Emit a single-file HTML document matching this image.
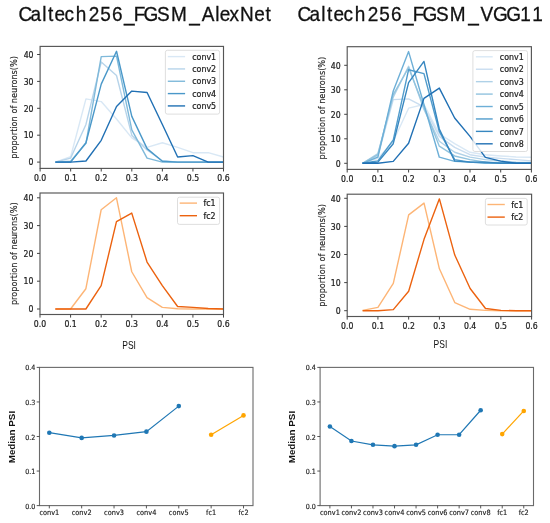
<!DOCTYPE html>
<html><head><meta charset="utf-8"><style>
html,body{margin:0;padding:0;background:#fff;}
svg{display:block;}
text{font-family:"DejaVu Sans", "Liberation Sans", sans-serif;fill:#222;}
.tt{font-family:"Liberation Sans",sans-serif;font-size:20px;fill:#111;stroke:#111;stroke-width:0.3px;}
.tk{font-size:8.6px;font-stretch:condensed;fill:#222;stroke:#222;stroke-width:0.22px;}
.tk2{font-size:7.3px;font-stretch:condensed;fill:#222;stroke:#222;stroke-width:0.15px;}
.tk2y{font-size:7.1px;font-stretch:condensed;fill:#222;stroke:#222;stroke-width:0.15px;}
.yl{font-size:8.2px;fill:#222;stroke:#222;stroke-width:0.15px;}
.xl{font-family:"Liberation Sans",sans-serif;font-size:10.6px;fill:#111;}
.lg{font-size:8.8px;font-stretch:condensed;fill:#222;stroke:#222;stroke-width:0.22px;}
.ml{font-family:"Liberation Sans",sans-serif;font-size:9.4px;font-weight:bold;fill:#111;}
</style></head><body>
<svg width="550" height="523" viewBox="0 0 550 523">
<rect width="550" height="523" fill="#fff"/>
<text x="19.6 32.22 44.56 50.46 57.46 67.89 79.66 93.54 105.46 117.79 130.58 140.73 151.15 165.18 179.88 199.11 212.28 226.56 231.46 241.68 252.56 267.62 279.51" y="21.3" class="tt" transform="scale(0.9500,1)">Caltech256_FGSM_AlexNet</text>
<text x="313.28 325.91 338.25 344.14 351.14 361.58 373.34 387.23 399.14 411.48 424.27 434.42 444.83 458.86 473.56 492.79 505.86 518.89 532.94 547.53 560.27" y="21.3" class="tt" transform="scale(0.9500,1)">Caltech256_FGSM_VGG11</text>
<polyline points="55.38,162.1 70.67,156.72 85.95,98.88 101.23,101.57 116.52,119.06 131.8,137.89 147.08,147.31 162.37,142.73 177.65,147.31 192.93,152.69 208.22,152.69 223.5,156.99" fill="none" stroke="#d9e8f5" stroke-width="1.4" stroke-linejoin="round"/>
<polyline points="55.38,162.1 70.67,158.06 85.95,124.44 101.23,62.03 116.52,75.48 131.8,135.2 147.08,150 162.37,160.75 177.65,162.1 192.93,162.1 208.22,162.1 223.5,162.1" fill="none" stroke="#b7d4ea" stroke-width="1.4" stroke-linejoin="round"/>
<polyline points="55.38,162.1 70.67,161.29 85.95,143.27 101.23,56.65 116.52,56.11 131.8,129.82 147.08,158.06 162.37,162.1 177.65,162.1 192.93,162.1 208.22,162.1 223.5,162.1" fill="none" stroke="#7fb9da" stroke-width="1.4" stroke-linejoin="round"/>
<polyline points="55.38,162.1 70.67,162.1 85.95,142.73 101.23,84.09 116.52,51.27 131.8,116.37 147.08,148.65 162.37,161.29 177.65,162.1 192.93,162.1 208.22,162.1 223.5,162.1" fill="none" stroke="#4a98c9" stroke-width="1.4" stroke-linejoin="round"/>
<polyline points="55.38,162.1 70.67,162.1 85.95,161.02 101.23,140.31 116.52,106.42 131.8,91.08 147.08,92.43 162.37,124.44 177.65,156.99 192.93,155.64 208.22,162.1 223.5,162.1" fill="none" stroke="#2070b4" stroke-width="1.4" stroke-linejoin="round"/>
<rect x="40.1" y="46.4" width="183.4" height="122" fill="none" stroke="#555" stroke-width="1.15"/>
<line x1="40.1" y1="168.4" x2="40.1" y2="171.5" stroke="#444" stroke-width="1"/>
<text x="40.1" y="180.5" text-anchor="middle" class="tk" textLength="12.30" lengthAdjust="spacingAndGlyphs">0.0</text>
<line x1="70.67" y1="168.4" x2="70.67" y2="171.5" stroke="#444" stroke-width="1"/>
<text x="70.67" y="180.5" text-anchor="middle" class="tk" textLength="12.30" lengthAdjust="spacingAndGlyphs">0.1</text>
<line x1="101.23" y1="168.4" x2="101.23" y2="171.5" stroke="#444" stroke-width="1"/>
<text x="101.23" y="180.5" text-anchor="middle" class="tk" textLength="12.30" lengthAdjust="spacingAndGlyphs">0.2</text>
<line x1="131.8" y1="168.4" x2="131.8" y2="171.5" stroke="#444" stroke-width="1"/>
<text x="131.8" y="180.5" text-anchor="middle" class="tk" textLength="12.30" lengthAdjust="spacingAndGlyphs">0.3</text>
<line x1="162.37" y1="168.4" x2="162.37" y2="171.5" stroke="#444" stroke-width="1"/>
<text x="162.37" y="180.5" text-anchor="middle" class="tk" textLength="12.30" lengthAdjust="spacingAndGlyphs">0.4</text>
<line x1="192.93" y1="168.4" x2="192.93" y2="171.5" stroke="#444" stroke-width="1"/>
<text x="192.93" y="180.5" text-anchor="middle" class="tk" textLength="12.30" lengthAdjust="spacingAndGlyphs">0.5</text>
<line x1="223.5" y1="168.4" x2="223.5" y2="171.5" stroke="#444" stroke-width="1"/>
<text x="223.5" y="180.5" text-anchor="middle" class="tk" textLength="12.30" lengthAdjust="spacingAndGlyphs">0.6</text>
<line x1="37.1" y1="162.1" x2="40.1" y2="162.1" stroke="#444" stroke-width="1"/>
<text x="33.5" y="165.3" text-anchor="end" class="tk" textLength="4.92" lengthAdjust="spacingAndGlyphs">0</text>
<line x1="37.1" y1="135.2" x2="40.1" y2="135.2" stroke="#444" stroke-width="1"/>
<text x="33.5" y="138.4" text-anchor="end" class="tk" textLength="9.84" lengthAdjust="spacingAndGlyphs">10</text>
<line x1="37.1" y1="108.3" x2="40.1" y2="108.3" stroke="#444" stroke-width="1"/>
<text x="33.5" y="111.5" text-anchor="end" class="tk" textLength="9.84" lengthAdjust="spacingAndGlyphs">20</text>
<line x1="37.1" y1="81.4" x2="40.1" y2="81.4" stroke="#444" stroke-width="1"/>
<text x="33.5" y="84.6" text-anchor="end" class="tk" textLength="9.84" lengthAdjust="spacingAndGlyphs">30</text>
<line x1="37.1" y1="54.5" x2="40.1" y2="54.5" stroke="#444" stroke-width="1"/>
<text x="33.5" y="57.7" text-anchor="end" class="tk" textLength="9.84" lengthAdjust="spacingAndGlyphs">40</text>
<text transform="translate(17.2,107.4) rotate(-90)" text-anchor="middle" class="yl" textLength="102.7" lengthAdjust="spacingAndGlyphs">proportion of neurons(%)</text>
<rect x="165.4" y="50.3" width="54.2" height="63.8" rx="2" fill="#fff" fill-opacity="0.8" stroke="#d6d6d6" stroke-width="0.8"/>
<line x1="167.8" y1="56.6" x2="185.1" y2="56.6" stroke="#d9e8f5" stroke-width="1.4"/>
<text x="192.2" y="59.8" class="lg" textLength="23.93" lengthAdjust="spacingAndGlyphs">conv1</text>
<line x1="167.8" y1="68.93" x2="185.1" y2="68.93" stroke="#b7d4ea" stroke-width="1.4"/>
<text x="192.2" y="72.13" class="lg" textLength="23.93" lengthAdjust="spacingAndGlyphs">conv2</text>
<line x1="167.8" y1="81.26" x2="185.1" y2="81.26" stroke="#7fb9da" stroke-width="1.4"/>
<text x="192.2" y="84.46" class="lg" textLength="23.93" lengthAdjust="spacingAndGlyphs">conv3</text>
<line x1="167.8" y1="93.59" x2="185.1" y2="93.59" stroke="#4a98c9" stroke-width="1.4"/>
<text x="192.2" y="96.79" class="lg" textLength="23.93" lengthAdjust="spacingAndGlyphs">conv4</text>
<line x1="167.8" y1="105.92" x2="185.1" y2="105.92" stroke="#2070b4" stroke-width="1.4"/>
<text x="192.2" y="109.12" class="lg" textLength="23.93" lengthAdjust="spacingAndGlyphs">conv5</text>
<polyline points="362.55,163.3 377.9,158.4 393.25,141.25 408.6,108.18 423.95,104.5 439.3,133.9 454.65,143.7 470,152.28 485.35,154.73 500.7,155.95 516.05,156.93 531.4,157.18" fill="none" stroke="#d9e8f5" stroke-width="1.4" stroke-linejoin="round"/>
<polyline points="362.55,163.3 377.9,155.95 393.25,99.6 408.6,98.87 423.95,106.95 439.3,136.35 454.65,147.38 470,154.73 485.35,157.18 500.7,158.4 516.05,159.62 531.4,160.85" fill="none" stroke="#c9ddf0" stroke-width="1.4" stroke-linejoin="round"/>
<polyline points="362.55,163.3 377.9,153.5 393.25,97.15 408.6,66.28 423.95,109.4 439.3,141.25 454.65,152.28 470,157.18 485.35,159.62 500.7,160.85 516.05,162.08 531.4,162.56" fill="none" stroke="#afd1e7" stroke-width="1.4" stroke-linejoin="round"/>
<polyline points="362.55,163.3 377.9,154.73 393.25,94.7 408.6,67.75 423.95,106.95 439.3,146.15 454.65,155.95 470,159.62 485.35,162.08 500.7,162.56 516.05,163.3 531.4,163.3" fill="none" stroke="#91c3de" stroke-width="1.4" stroke-linejoin="round"/>
<polyline points="362.55,163.3 377.9,157.18 393.25,91.03 408.6,51.58 423.95,104.5 439.3,157.18 454.65,161.34 470,162.08 485.35,163.3 500.7,163.3 516.05,163.3 531.4,163.3" fill="none" stroke="#6dafd7" stroke-width="1.4" stroke-linejoin="round"/>
<polyline points="362.55,163.3 377.9,160.85 393.25,140.03 408.6,69.71 423.95,73.63 439.3,131.45 454.65,159.62 470,162.08 485.35,162.56 500.7,163.3 516.05,163.3 531.4,163.3" fill="none" stroke="#519ccc" stroke-width="1.4" stroke-linejoin="round"/>
<polyline points="362.55,163.3 377.9,162.08 393.25,143.7 408.6,82.7 423.95,61.38 439.3,129 454.65,160.85 470,162.08 485.35,162.08 500.7,163.3 516.05,163.3 531.4,163.3" fill="none" stroke="#3787c0" stroke-width="1.4" stroke-linejoin="round"/>
<polyline points="362.55,163.3 377.9,163.3 393.25,161.34 408.6,143.21 423.95,98.38 439.3,88.09 454.65,117.98 470,136.35 485.35,157.42 500.7,161.09 516.05,163.3 531.4,163.3" fill="none" stroke="#2070b4" stroke-width="1.4" stroke-linejoin="round"/>
<rect x="347.2" y="46.7" width="184.2" height="122.7" fill="none" stroke="#555" stroke-width="1.15"/>
<line x1="347.2" y1="169.4" x2="347.2" y2="172.5" stroke="#444" stroke-width="1"/>
<text x="347.2" y="181.5" text-anchor="middle" class="tk" textLength="12.30" lengthAdjust="spacingAndGlyphs">0.0</text>
<line x1="377.9" y1="169.4" x2="377.9" y2="172.5" stroke="#444" stroke-width="1"/>
<text x="377.9" y="181.5" text-anchor="middle" class="tk" textLength="12.30" lengthAdjust="spacingAndGlyphs">0.1</text>
<line x1="408.6" y1="169.4" x2="408.6" y2="172.5" stroke="#444" stroke-width="1"/>
<text x="408.6" y="181.5" text-anchor="middle" class="tk" textLength="12.30" lengthAdjust="spacingAndGlyphs">0.2</text>
<line x1="439.3" y1="169.4" x2="439.3" y2="172.5" stroke="#444" stroke-width="1"/>
<text x="439.3" y="181.5" text-anchor="middle" class="tk" textLength="12.30" lengthAdjust="spacingAndGlyphs">0.3</text>
<line x1="470" y1="169.4" x2="470" y2="172.5" stroke="#444" stroke-width="1"/>
<text x="470" y="181.5" text-anchor="middle" class="tk" textLength="12.30" lengthAdjust="spacingAndGlyphs">0.4</text>
<line x1="500.7" y1="169.4" x2="500.7" y2="172.5" stroke="#444" stroke-width="1"/>
<text x="500.7" y="181.5" text-anchor="middle" class="tk" textLength="12.30" lengthAdjust="spacingAndGlyphs">0.5</text>
<line x1="531.4" y1="169.4" x2="531.4" y2="172.5" stroke="#444" stroke-width="1"/>
<text x="531.4" y="181.5" text-anchor="middle" class="tk" textLength="12.30" lengthAdjust="spacingAndGlyphs">0.6</text>
<line x1="344.2" y1="163.3" x2="347.2" y2="163.3" stroke="#444" stroke-width="1"/>
<text x="340.6" y="166.5" text-anchor="end" class="tk" textLength="4.92" lengthAdjust="spacingAndGlyphs">0</text>
<line x1="344.2" y1="138.8" x2="347.2" y2="138.8" stroke="#444" stroke-width="1"/>
<text x="340.6" y="142" text-anchor="end" class="tk" textLength="9.84" lengthAdjust="spacingAndGlyphs">10</text>
<line x1="344.2" y1="114.3" x2="347.2" y2="114.3" stroke="#444" stroke-width="1"/>
<text x="340.6" y="117.5" text-anchor="end" class="tk" textLength="9.84" lengthAdjust="spacingAndGlyphs">20</text>
<line x1="344.2" y1="89.8" x2="347.2" y2="89.8" stroke="#444" stroke-width="1"/>
<text x="340.6" y="93" text-anchor="end" class="tk" textLength="9.84" lengthAdjust="spacingAndGlyphs">30</text>
<line x1="344.2" y1="65.3" x2="347.2" y2="65.3" stroke="#444" stroke-width="1"/>
<text x="340.6" y="68.5" text-anchor="end" class="tk" textLength="9.84" lengthAdjust="spacingAndGlyphs">40</text>
<text transform="translate(324.6,108.05) rotate(-90)" text-anchor="middle" class="yl" textLength="102.7" lengthAdjust="spacingAndGlyphs">proportion of neurons(%)</text>
<rect x="472.9" y="50.6" width="54.6" height="100.9" rx="2" fill="#fff" fill-opacity="0.8" stroke="#d6d6d6" stroke-width="0.8"/>
<line x1="475.9" y1="56.8" x2="492.7" y2="56.8" stroke="#d9e8f5" stroke-width="1.4"/>
<text x="499.8" y="60" class="lg" textLength="23.93" lengthAdjust="spacingAndGlyphs">conv1</text>
<line x1="475.9" y1="69.23" x2="492.7" y2="69.23" stroke="#c9ddf0" stroke-width="1.4"/>
<text x="499.8" y="72.43" class="lg" textLength="23.93" lengthAdjust="spacingAndGlyphs">conv2</text>
<line x1="475.9" y1="81.66" x2="492.7" y2="81.66" stroke="#afd1e7" stroke-width="1.4"/>
<text x="499.8" y="84.86" class="lg" textLength="23.93" lengthAdjust="spacingAndGlyphs">conv3</text>
<line x1="475.9" y1="94.09" x2="492.7" y2="94.09" stroke="#91c3de" stroke-width="1.4"/>
<text x="499.8" y="97.29" class="lg" textLength="23.93" lengthAdjust="spacingAndGlyphs">conv4</text>
<line x1="475.9" y1="106.52" x2="492.7" y2="106.52" stroke="#6dafd7" stroke-width="1.4"/>
<text x="499.8" y="109.72" class="lg" textLength="23.93" lengthAdjust="spacingAndGlyphs">conv5</text>
<line x1="475.9" y1="118.95" x2="492.7" y2="118.95" stroke="#519ccc" stroke-width="1.4"/>
<text x="499.8" y="122.15" class="lg" textLength="23.93" lengthAdjust="spacingAndGlyphs">conv6</text>
<line x1="475.9" y1="131.38" x2="492.7" y2="131.38" stroke="#3787c0" stroke-width="1.4"/>
<text x="499.8" y="134.58" class="lg" textLength="23.93" lengthAdjust="spacingAndGlyphs">conv7</text>
<line x1="475.9" y1="143.81" x2="492.7" y2="143.81" stroke="#2070b4" stroke-width="1.4"/>
<text x="499.8" y="147.01" class="lg" textLength="23.93" lengthAdjust="spacingAndGlyphs">conv8</text>
<polyline points="55.29,309 70.58,309 85.88,288.71 101.17,209.75 116.46,197.8 131.75,271.75 147.04,297.6 162.33,307.33 177.62,308.72 192.92,309 208.21,309 223.5,309" fill="none" stroke="#fdb576" stroke-width="1.4" stroke-linejoin="round"/>
<polyline points="55.29,309 70.58,309 85.88,309 101.17,285.65 116.46,221.71 131.75,213.09 147.04,262.02 162.33,285.65 177.62,306.5 192.92,307.33 208.21,308.44 223.5,309" fill="none" stroke="#ec620f" stroke-width="1.4" stroke-linejoin="round"/>
<rect x="40" y="193" width="183.5" height="121.5" fill="none" stroke="#555" stroke-width="1.15"/>
<line x1="40" y1="314.5" x2="40" y2="317.6" stroke="#444" stroke-width="1"/>
<text x="40" y="326.6" text-anchor="middle" class="tk" textLength="12.30" lengthAdjust="spacingAndGlyphs">0.0</text>
<line x1="70.58" y1="314.5" x2="70.58" y2="317.6" stroke="#444" stroke-width="1"/>
<text x="70.58" y="326.6" text-anchor="middle" class="tk" textLength="12.30" lengthAdjust="spacingAndGlyphs">0.1</text>
<line x1="101.17" y1="314.5" x2="101.17" y2="317.6" stroke="#444" stroke-width="1"/>
<text x="101.17" y="326.6" text-anchor="middle" class="tk" textLength="12.30" lengthAdjust="spacingAndGlyphs">0.2</text>
<line x1="131.75" y1="314.5" x2="131.75" y2="317.6" stroke="#444" stroke-width="1"/>
<text x="131.75" y="326.6" text-anchor="middle" class="tk" textLength="12.30" lengthAdjust="spacingAndGlyphs">0.3</text>
<line x1="162.33" y1="314.5" x2="162.33" y2="317.6" stroke="#444" stroke-width="1"/>
<text x="162.33" y="326.6" text-anchor="middle" class="tk" textLength="12.30" lengthAdjust="spacingAndGlyphs">0.4</text>
<line x1="192.92" y1="314.5" x2="192.92" y2="317.6" stroke="#444" stroke-width="1"/>
<text x="192.92" y="326.6" text-anchor="middle" class="tk" textLength="12.30" lengthAdjust="spacingAndGlyphs">0.5</text>
<line x1="223.5" y1="314.5" x2="223.5" y2="317.6" stroke="#444" stroke-width="1"/>
<text x="223.5" y="326.6" text-anchor="middle" class="tk" textLength="12.30" lengthAdjust="spacingAndGlyphs">0.6</text>
<line x1="37" y1="309" x2="40" y2="309" stroke="#444" stroke-width="1"/>
<text x="33.4" y="312.2" text-anchor="end" class="tk" textLength="4.92" lengthAdjust="spacingAndGlyphs">0</text>
<line x1="37" y1="281.2" x2="40" y2="281.2" stroke="#444" stroke-width="1"/>
<text x="33.4" y="284.4" text-anchor="end" class="tk" textLength="9.84" lengthAdjust="spacingAndGlyphs">10</text>
<line x1="37" y1="253.4" x2="40" y2="253.4" stroke="#444" stroke-width="1"/>
<text x="33.4" y="256.6" text-anchor="end" class="tk" textLength="9.84" lengthAdjust="spacingAndGlyphs">20</text>
<line x1="37" y1="225.6" x2="40" y2="225.6" stroke="#444" stroke-width="1"/>
<text x="33.4" y="228.8" text-anchor="end" class="tk" textLength="9.84" lengthAdjust="spacingAndGlyphs">30</text>
<line x1="37" y1="197.8" x2="40" y2="197.8" stroke="#444" stroke-width="1"/>
<text x="33.4" y="201" text-anchor="end" class="tk" textLength="9.84" lengthAdjust="spacingAndGlyphs">40</text>
<text transform="translate(17.2,253.75) rotate(-90)" text-anchor="middle" class="yl" textLength="102.7" lengthAdjust="spacingAndGlyphs">proportion of neurons(%)</text>
<rect x="177.5" y="197.2" width="42.1" height="27.2" rx="2" fill="#fff" fill-opacity="0.8" stroke="#d6d6d6" stroke-width="0.8"/>
<line x1="179.7" y1="203.1" x2="197" y2="203.1" stroke="#fdb576" stroke-width="1.4"/>
<text x="203.4" y="206.3" class="lg" textLength="12.17" lengthAdjust="spacingAndGlyphs">fc1</text>
<line x1="179.7" y1="215.7" x2="197" y2="215.7" stroke="#ec620f" stroke-width="1.4"/>
<text x="203.4" y="218.9" class="lg" textLength="12.17" lengthAdjust="spacingAndGlyphs">fc2</text>
<text x="129.1" y="348.6" text-anchor="middle" class="xl" textLength="13.7" lengthAdjust="spacingAndGlyphs">PSI</text>
<polyline points="362.57,310.42 377.93,307.33 393.3,283.44 408.67,214.88 424.03,203.08 439.4,268.83 454.77,302.55 470.13,309.3 485.5,310.42 500.87,310.7 516.23,310.7 531.6,310.7" fill="none" stroke="#fdb576" stroke-width="1.4" stroke-linejoin="round"/>
<polyline points="362.57,310.7 377.93,310.7 393.3,309.58 408.67,291.31 424.03,239.33 439.4,198.86 454.77,255.06 470.13,288.5 485.5,308.45 500.87,310.42 516.23,310.7 531.6,310.7" fill="none" stroke="#ec620f" stroke-width="1.4" stroke-linejoin="round"/>
<rect x="347.2" y="194.2" width="184.4" height="122.3" fill="none" stroke="#555" stroke-width="1.15"/>
<line x1="347.2" y1="316.5" x2="347.2" y2="319.6" stroke="#444" stroke-width="1"/>
<text x="347.2" y="328.6" text-anchor="middle" class="tk" textLength="12.30" lengthAdjust="spacingAndGlyphs">0.0</text>
<line x1="377.93" y1="316.5" x2="377.93" y2="319.6" stroke="#444" stroke-width="1"/>
<text x="377.93" y="328.6" text-anchor="middle" class="tk" textLength="12.30" lengthAdjust="spacingAndGlyphs">0.1</text>
<line x1="408.67" y1="316.5" x2="408.67" y2="319.6" stroke="#444" stroke-width="1"/>
<text x="408.67" y="328.6" text-anchor="middle" class="tk" textLength="12.30" lengthAdjust="spacingAndGlyphs">0.2</text>
<line x1="439.4" y1="316.5" x2="439.4" y2="319.6" stroke="#444" stroke-width="1"/>
<text x="439.4" y="328.6" text-anchor="middle" class="tk" textLength="12.30" lengthAdjust="spacingAndGlyphs">0.3</text>
<line x1="470.13" y1="316.5" x2="470.13" y2="319.6" stroke="#444" stroke-width="1"/>
<text x="470.13" y="328.6" text-anchor="middle" class="tk" textLength="12.30" lengthAdjust="spacingAndGlyphs">0.4</text>
<line x1="500.87" y1="316.5" x2="500.87" y2="319.6" stroke="#444" stroke-width="1"/>
<text x="500.87" y="328.6" text-anchor="middle" class="tk" textLength="12.30" lengthAdjust="spacingAndGlyphs">0.5</text>
<line x1="531.6" y1="316.5" x2="531.6" y2="319.6" stroke="#444" stroke-width="1"/>
<text x="531.6" y="328.6" text-anchor="middle" class="tk" textLength="12.30" lengthAdjust="spacingAndGlyphs">0.6</text>
<line x1="344.2" y1="310.7" x2="347.2" y2="310.7" stroke="#444" stroke-width="1"/>
<text x="340.6" y="313.9" text-anchor="end" class="tk" textLength="4.92" lengthAdjust="spacingAndGlyphs">0</text>
<line x1="344.2" y1="282.6" x2="347.2" y2="282.6" stroke="#444" stroke-width="1"/>
<text x="340.6" y="285.8" text-anchor="end" class="tk" textLength="9.84" lengthAdjust="spacingAndGlyphs">10</text>
<line x1="344.2" y1="254.5" x2="347.2" y2="254.5" stroke="#444" stroke-width="1"/>
<text x="340.6" y="257.7" text-anchor="end" class="tk" textLength="9.84" lengthAdjust="spacingAndGlyphs">20</text>
<line x1="344.2" y1="226.4" x2="347.2" y2="226.4" stroke="#444" stroke-width="1"/>
<text x="340.6" y="229.6" text-anchor="end" class="tk" textLength="9.84" lengthAdjust="spacingAndGlyphs">30</text>
<line x1="344.2" y1="198.3" x2="347.2" y2="198.3" stroke="#444" stroke-width="1"/>
<text x="340.6" y="201.5" text-anchor="end" class="tk" textLength="9.84" lengthAdjust="spacingAndGlyphs">40</text>
<text transform="translate(324.6,255.35) rotate(-90)" text-anchor="middle" class="yl" textLength="102.7" lengthAdjust="spacingAndGlyphs">proportion of neurons(%)</text>
<rect x="485.4" y="198.4" width="41.8" height="26.6" rx="2" fill="#fff" fill-opacity="0.8" stroke="#d6d6d6" stroke-width="0.8"/>
<line x1="487.5" y1="204.5" x2="504.8" y2="204.5" stroke="#fdb576" stroke-width="1.4"/>
<text x="511.2" y="207.7" class="lg" textLength="12.17" lengthAdjust="spacingAndGlyphs">fc1</text>
<line x1="487.5" y1="217.1" x2="504.8" y2="217.1" stroke="#ec620f" stroke-width="1.4"/>
<text x="511.2" y="220.3" class="lg" textLength="12.17" lengthAdjust="spacingAndGlyphs">fc2</text>
<text x="440.4" y="348.4" text-anchor="middle" class="xl" textLength="13.7" lengthAdjust="spacingAndGlyphs">PSI</text>
<rect x="39.5" y="367.4" width="213.5" height="138.2" fill="none" stroke="#6a6a6a" stroke-width="1.1"/>
<line x1="36.7" y1="505.6" x2="39.5" y2="505.6" stroke="#444" stroke-width="0.9"/>
<text x="35.3" y="508.6" text-anchor="end" class="tk2y" textLength="10.15" lengthAdjust="spacingAndGlyphs">0.0</text>
<line x1="36.7" y1="471.05" x2="39.5" y2="471.05" stroke="#444" stroke-width="0.9"/>
<text x="35.3" y="474.05" text-anchor="end" class="tk2y" textLength="10.15" lengthAdjust="spacingAndGlyphs">0.1</text>
<line x1="36.7" y1="436.5" x2="39.5" y2="436.5" stroke="#444" stroke-width="0.9"/>
<text x="35.3" y="439.5" text-anchor="end" class="tk2y" textLength="10.15" lengthAdjust="spacingAndGlyphs">0.2</text>
<line x1="36.7" y1="401.95" x2="39.5" y2="401.95" stroke="#444" stroke-width="0.9"/>
<text x="35.3" y="404.95" text-anchor="end" class="tk2y" textLength="10.15" lengthAdjust="spacingAndGlyphs">0.3</text>
<line x1="36.7" y1="367.4" x2="39.5" y2="367.4" stroke="#444" stroke-width="0.9"/>
<text x="35.3" y="370.4" text-anchor="end" class="tk2y" textLength="10.15" lengthAdjust="spacingAndGlyphs">0.4</text>
<line x1="49.3" y1="505.6" x2="49.3" y2="508.4" stroke="#444" stroke-width="0.9"/>
<text x="49.3" y="515.2" text-anchor="middle" class="tk2" textLength="19.85" lengthAdjust="spacingAndGlyphs">conv1</text>
<line x1="81.67" y1="505.6" x2="81.67" y2="508.4" stroke="#444" stroke-width="0.9"/>
<text x="81.67" y="515.2" text-anchor="middle" class="tk2" textLength="19.85" lengthAdjust="spacingAndGlyphs">conv2</text>
<line x1="114.04" y1="505.6" x2="114.04" y2="508.4" stroke="#444" stroke-width="0.9"/>
<text x="114.04" y="515.2" text-anchor="middle" class="tk2" textLength="19.85" lengthAdjust="spacingAndGlyphs">conv3</text>
<line x1="146.41" y1="505.6" x2="146.41" y2="508.4" stroke="#444" stroke-width="0.9"/>
<text x="146.41" y="515.2" text-anchor="middle" class="tk2" textLength="19.85" lengthAdjust="spacingAndGlyphs">conv4</text>
<line x1="178.78" y1="505.6" x2="178.78" y2="508.4" stroke="#444" stroke-width="0.9"/>
<text x="178.78" y="515.2" text-anchor="middle" class="tk2" textLength="19.85" lengthAdjust="spacingAndGlyphs">conv5</text>
<line x1="211.15" y1="505.6" x2="211.15" y2="508.4" stroke="#444" stroke-width="0.9"/>
<text x="211.15" y="515.2" text-anchor="middle" class="tk2" textLength="10.10" lengthAdjust="spacingAndGlyphs">fc1</text>
<line x1="243.52" y1="505.6" x2="243.52" y2="508.4" stroke="#444" stroke-width="0.9"/>
<text x="243.52" y="515.2" text-anchor="middle" class="tk2" textLength="10.10" lengthAdjust="spacingAndGlyphs">fc2</text>
<polyline points="49.3,432.7 81.67,437.88 114.04,435.46 146.41,431.66 178.78,406.1" fill="none" stroke="#1f77b4" stroke-width="1.2"/>
<circle cx="49.3" cy="432.7" r="2.3" fill="#1f77b4"/>
<circle cx="81.67" cy="437.88" r="2.3" fill="#1f77b4"/>
<circle cx="114.04" cy="435.46" r="2.3" fill="#1f77b4"/>
<circle cx="146.41" cy="431.66" r="2.3" fill="#1f77b4"/>
<circle cx="178.78" cy="406.1" r="2.3" fill="#1f77b4"/>
<polyline points="211.15,434.77 243.52,415.42" fill="none" stroke="#ffa500" stroke-width="1.2"/>
<circle cx="211.15" cy="434.77" r="2.3" fill="#ffa500"/>
<circle cx="243.52" cy="415.42" r="2.3" fill="#ffa500"/>
<text transform="translate(14.6,437.1) rotate(-90)" text-anchor="middle" class="ml" textLength="52.4" lengthAdjust="spacingAndGlyphs">Median PSI</text>
<rect x="320.1" y="367.4" width="213.4" height="138.2" fill="none" stroke="#6a6a6a" stroke-width="1.1"/>
<line x1="317.3" y1="505.6" x2="320.1" y2="505.6" stroke="#444" stroke-width="0.9"/>
<text x="315.9" y="508.6" text-anchor="end" class="tk2y" textLength="10.15" lengthAdjust="spacingAndGlyphs">0.0</text>
<line x1="317.3" y1="471.05" x2="320.1" y2="471.05" stroke="#444" stroke-width="0.9"/>
<text x="315.9" y="474.05" text-anchor="end" class="tk2y" textLength="10.15" lengthAdjust="spacingAndGlyphs">0.1</text>
<line x1="317.3" y1="436.5" x2="320.1" y2="436.5" stroke="#444" stroke-width="0.9"/>
<text x="315.9" y="439.5" text-anchor="end" class="tk2y" textLength="10.15" lengthAdjust="spacingAndGlyphs">0.2</text>
<line x1="317.3" y1="401.95" x2="320.1" y2="401.95" stroke="#444" stroke-width="0.9"/>
<text x="315.9" y="404.95" text-anchor="end" class="tk2y" textLength="10.15" lengthAdjust="spacingAndGlyphs">0.3</text>
<line x1="317.3" y1="367.4" x2="320.1" y2="367.4" stroke="#444" stroke-width="0.9"/>
<text x="315.9" y="370.4" text-anchor="end" class="tk2y" textLength="10.15" lengthAdjust="spacingAndGlyphs">0.4</text>
<line x1="329.9" y1="505.6" x2="329.9" y2="508.4" stroke="#444" stroke-width="0.9"/>
<text x="329.9" y="515.2" text-anchor="middle" class="tk2" textLength="19.85" lengthAdjust="spacingAndGlyphs">conv1</text>
<line x1="351.44" y1="505.6" x2="351.44" y2="508.4" stroke="#444" stroke-width="0.9"/>
<text x="351.44" y="515.2" text-anchor="middle" class="tk2" textLength="19.85" lengthAdjust="spacingAndGlyphs">conv2</text>
<line x1="372.98" y1="505.6" x2="372.98" y2="508.4" stroke="#444" stroke-width="0.9"/>
<text x="372.98" y="515.2" text-anchor="middle" class="tk2" textLength="19.85" lengthAdjust="spacingAndGlyphs">conv3</text>
<line x1="394.52" y1="505.6" x2="394.52" y2="508.4" stroke="#444" stroke-width="0.9"/>
<text x="394.52" y="515.2" text-anchor="middle" class="tk2" textLength="19.85" lengthAdjust="spacingAndGlyphs">conv4</text>
<line x1="416.06" y1="505.6" x2="416.06" y2="508.4" stroke="#444" stroke-width="0.9"/>
<text x="416.06" y="515.2" text-anchor="middle" class="tk2" textLength="19.85" lengthAdjust="spacingAndGlyphs">conv5</text>
<line x1="437.6" y1="505.6" x2="437.6" y2="508.4" stroke="#444" stroke-width="0.9"/>
<text x="437.6" y="515.2" text-anchor="middle" class="tk2" textLength="19.85" lengthAdjust="spacingAndGlyphs">conv6</text>
<line x1="459.14" y1="505.6" x2="459.14" y2="508.4" stroke="#444" stroke-width="0.9"/>
<text x="459.14" y="515.2" text-anchor="middle" class="tk2" textLength="19.85" lengthAdjust="spacingAndGlyphs">conv7</text>
<line x1="480.68" y1="505.6" x2="480.68" y2="508.4" stroke="#444" stroke-width="0.9"/>
<text x="480.68" y="515.2" text-anchor="middle" class="tk2" textLength="19.85" lengthAdjust="spacingAndGlyphs">conv8</text>
<line x1="502.22" y1="505.6" x2="502.22" y2="508.4" stroke="#444" stroke-width="0.9"/>
<text x="502.22" y="515.2" text-anchor="middle" class="tk2" textLength="10.10" lengthAdjust="spacingAndGlyphs">fc1</text>
<line x1="523.76" y1="505.6" x2="523.76" y2="508.4" stroke="#444" stroke-width="0.9"/>
<text x="523.76" y="515.2" text-anchor="middle" class="tk2" textLength="10.10" lengthAdjust="spacingAndGlyphs">fc2</text>
<polyline points="329.9,426.48 351.44,440.99 372.98,444.79 394.52,446.17 416.06,444.79 437.6,434.77 459.14,434.77 480.68,410.24" fill="none" stroke="#1f77b4" stroke-width="1.2"/>
<circle cx="329.9" cy="426.48" r="2.3" fill="#1f77b4"/>
<circle cx="351.44" cy="440.99" r="2.3" fill="#1f77b4"/>
<circle cx="372.98" cy="444.79" r="2.3" fill="#1f77b4"/>
<circle cx="394.52" cy="446.17" r="2.3" fill="#1f77b4"/>
<circle cx="416.06" cy="444.79" r="2.3" fill="#1f77b4"/>
<circle cx="437.6" cy="434.77" r="2.3" fill="#1f77b4"/>
<circle cx="459.14" cy="434.77" r="2.3" fill="#1f77b4"/>
<circle cx="480.68" cy="410.24" r="2.3" fill="#1f77b4"/>
<polyline points="502.22,434.08 523.76,410.93" fill="none" stroke="#ffa500" stroke-width="1.2"/>
<circle cx="502.22" cy="434.08" r="2.3" fill="#ffa500"/>
<circle cx="523.76" cy="410.93" r="2.3" fill="#ffa500"/>
<text transform="translate(294.9,437.1) rotate(-90)" text-anchor="middle" class="ml" textLength="52.4" lengthAdjust="spacingAndGlyphs">Median PSI</text>
</svg>
</body></html>
